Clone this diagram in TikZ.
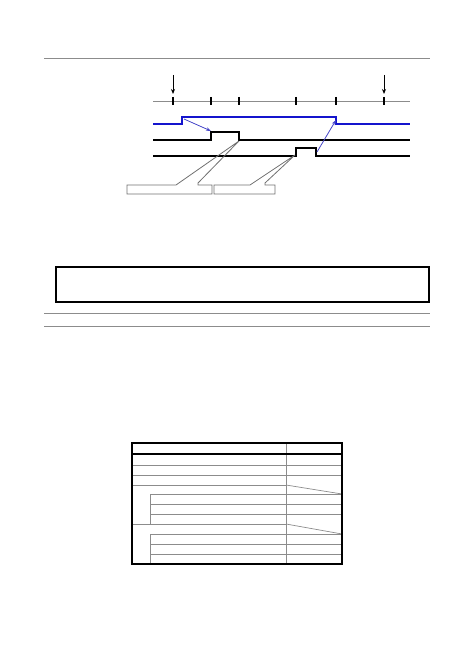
\documentclass[tikz,border=0pt]{standalone}
\usetikzlibrary{arrows.meta}
\definecolor{sigblue}{RGB}{20,20,205}
\definecolor{arrblue}{RGB}{70,70,200}
\definecolor{rule}{RGB}{140,140,140}
\begin{document}
\begin{tikzpicture}[x=1pt,y=-1pt,
  thinrule/.style={draw=rule,line width=0.8pt},
  sig/.style={draw=black,line width=1.8pt},
  bluesig/.style={draw=sigblue,line width=1.8pt},
  tickmark/.style={draw=black,line width=1.2pt},
  pointer/.style={draw=black,line width=0.9pt,-{Stealth[length=5pt,width=4pt]}},
  causal/.style={draw=arrblue,line width=0.8pt,-{Stealth[length=5pt,width=3.5pt]}},
  callout/.style={draw=rule!80!black,line width=0.8pt},
  frame/.style={draw=black,line width=1.4pt},
  grid/.style={draw=rule,line width=0.7pt}]
\useasboundingbox (0,0) rectangle (474,671);
% top rule
\draw[thinrule] (44,58) -- (430,58);
% time axis
\coordinate (ax0) at (153,101); \coordinate (ax1) at (410,101);
\draw[thinrule] (ax0) -- (ax1);
\foreach \x in {173,211,239,296,336,384}
  \draw[tickmark] (\x,97) -- (\x,105);
\coordinate (a1s) at (173,75); \coordinate (a1e) at (173,94);
\coordinate (a2s) at (384,75); \coordinate (a2e) at (384,94);
\draw[pointer] (a1s) -- (a1e);
\draw[pointer] (a2s) -- (a2e);
% blue signal
\draw[bluesig] (153,124) -- (182,124) -- (182,117) -- (336,117) -- (336,124) -- (410,124);
% black signal 1
\draw[sig] (153,140) -- (211,140) -- (211,132) -- (239,132) -- (239,140) -- (410,140);
% black signal 2
\draw[sig] (153,156) -- (296,156) -- (296,148) -- (316,148) -- (316,156) -- (410,156);
% causal arrows
\coordinate (c1s) at (184,119); \coordinate (c1e) at (211,131);
\coordinate (c2s) at (317,152); \coordinate (c2e) at (336,120);
\draw[causal] (c1s) -- (c1e);
\draw[causal] (c2s) -- (c2e);
% callouts
\coordinate (tip1) at (239,141);
\coordinate (tip2) at (295,155);
\draw[callout] (127,185) -- (176,185) -- (tip1) -- (198,183) -- (198,185) -- (212,185) -- (212,194) -- (127,194) -- cycle;
\draw[callout] (214,185) -- (250,185) -- (tip2) -- (265,183) -- (265,185) -- (275,185) -- (275,194) -- (214,194) -- cycle;
% box
\draw[frame] (56,267) rectangle (429,302);
% double rule
\draw[thinrule] (44,313) -- (430,313);
\draw[thinrule] (44,326) -- (430,326);
% table
\foreach \y in {465,475,485,524} \draw[grid] (132,\y) -- (286,\y);
\foreach \y in {465,475,494,504,514,534,544,554} \draw[grid] (286,\y) -- (342,\y);
\foreach \y in {494,504,514,534,544,554} \draw[grid] (150,\y) -- (286,\y);
\draw[grid] (150,494) -- (150,524);
\draw[grid] (150,534) -- (150,564);
\draw[grid] (286,485) -- (342,494);
\draw[grid] (286,524) -- (342,534);
\draw[grid] (286,443) -- (286,564);
\draw[draw=black,line width=1.3pt] (132,454) -- (342,454);
\draw[frame] (132,443) rectangle (342,564);
\end{tikzpicture}
\end{document}
